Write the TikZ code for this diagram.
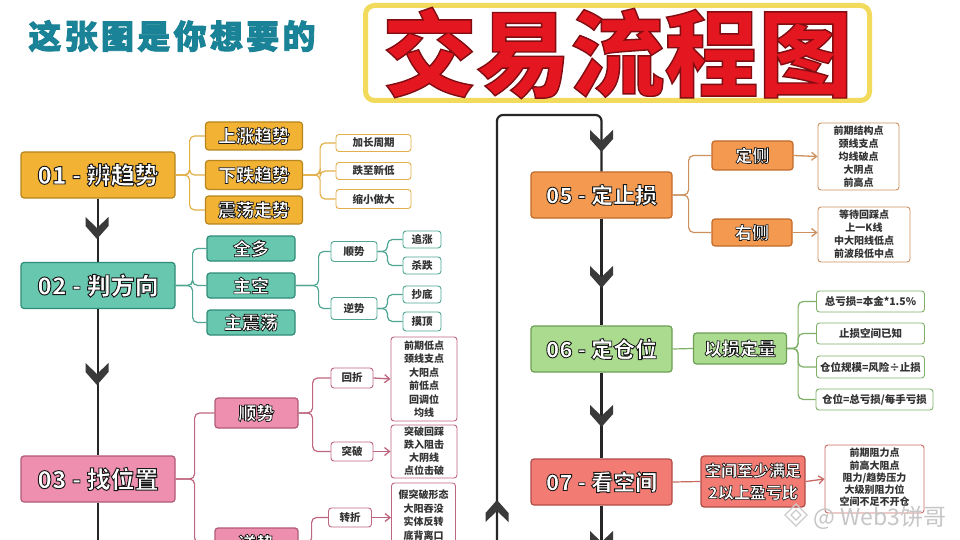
\documentclass[tikz,border=0pt]{standalone}
\usepackage{fontspec}
\setmainfont{Noto Sans CJK SC}
\usetikzlibrary{arrows.meta}
\definecolor{goldF}{HTML}{F2B233}
\definecolor{goldD}{HTML}{B7861F}
\definecolor{goldL}{HTML}{E3B04B}
\definecolor{tealF}{HTML}{67C8AF}
\definecolor{tealD}{HTML}{2F8C78}
\definecolor{tealL}{HTML}{4FA793}
\definecolor{pinkF}{HTML}{EF8FAF}
\definecolor{pinkD}{HTML}{B05A75}
\definecolor{pinkL}{HTML}{BF667F}
\definecolor{orgF}{HTML}{F49A50}
\definecolor{orgD}{HTML}{C06A2C}
\definecolor{orgL}{HTML}{CD915F}
\definecolor{grnF}{HTML}{AADB8F}
\definecolor{grnD}{HTML}{6E9F56}
\definecolor{grnL}{HTML}{7FB068}
\definecolor{redF}{HTML}{F27C74}
\definecolor{redD}{HTML}{B04C47}
\definecolor{redL}{HTML}{C96A65}
\definecolor{subT}{HTML}{1A8397}
\definecolor{titR}{HTML}{E4161F}
\definecolor{titY}{HTML}{F2DA5C}
\definecolor{chev}{HTML}{3A3A3A}
\definecolor{ink}{HTML}{333333}
% outlined text: fill colour #1, stroke colour (rgb) #2, stroke strength #3
\newcommand\olt[4]{{\color{#1}\special{pdf:code #2 RG}\addfontfeature{FakeBold=#3}#4}}
\newcommand\wt[1]{\olt{white}{0.1 0.1 0.1}{4}{#1}}
\tikzset{
  box/.style={rectangle, rounded corners=3pt, line width=1.2pt, inner sep=0pt, align=center},
  mainbox/.style n args={2}{box, draw=#1, fill=#2, minimum height=46,
     font=\fontsize{24}{24}\selectfont\bfseries},
  subbox/.style n args={2}{box, draw=#1, fill=#2,
     font=\fontsize{18}{19}\selectfont\bfseries},
  leaf/.style={box, draw=#1, fill=white, line width=0.9pt, text=ink,
     font=\fontsize{10.5}{13.5}\selectfont\bfseries},
  conn/.style={draw=#1, line width=1.2pt, rounded corners=5pt},
  arr/.style={draw=#1, line width=1.3pt, -{Straight Barb[length=5pt,width=8pt]}},
  flow/.style={draw=black!85, line width=2.2pt},
  chevdown/.pic={\fill[chev] (-11.5,0) -- (0,11) -- (11.5,0) -- (11.5,9) -- (0,22) -- (-11.5,9) -- cycle;},
  chevup/.pic={\fill[chev] (-11.5,0) -- (0,-11) -- (11.5,0) -- (11.5,-9) -- (0,-22) -- (-11.5,-9) -- cycle;}
}
\begin{document}
\begin{tikzpicture}[x=1pt,y=-1pt]
\useasboundingbox (0,0) rectangle (960,540);
\clip (0,0) rectangle (960,540);
\fill[white] (0,0) rectangle (960,540);

% header
\node[font=\fontsize{33}{33}\selectfont\bfseries\addfontfeatures{LetterSpace=10}] (sub) at (172,36) {\olt{subT}{0.1 0.51 0.59}{2.5}{这张图是你想要的}};
\node[draw=titY, fill=white, line width=5pt, rounded corners=9pt, minimum width=504, minimum height=95, inner sep=0pt,
      font=\fontsize{94}{94}\selectfont\bfseries] (title) at (617.5,53) {\olt{titR}{0.5 0.05 0.07}{1.5}{交易流程图}};

% ---------- left column ----------
\node[mainbox={goldD}{goldF}, minimum width=154] (n01) at (98,175) {\wt{01 - 辨趋势}};
\node[mainbox={tealD}{tealF}, minimum width=154] (n02) at (98,285.5) {\wt{02 - 判方向}};
\node[mainbox={pinkD}{pinkF}, minimum width=154] (n03) at (98,479) {\wt{03 - 找位置}};
\coordinate (leftbot) at (98,560);
\draw[flow] (n01.south) -- (n02.north);
\draw[flow] (n02.south) -- (n03.north);
\draw[flow] (n03.south) -- (leftbot);
\pic at (97,217) {chevdown};
\pic at (97,363) {chevdown};

% 01 branch
\node[subbox={goldD}{goldF}, minimum width=97, minimum height=28] (c11) at (254,136) {\wt{上涨趋势}};
\node[subbox={goldD}{goldF}, minimum width=97, minimum height=29] (c12) at (254,175) {\wt{下跌趋势}};
\node[subbox={goldD}{goldF}, minimum width=97, minimum height=28] (c13) at (254,210) {\wt{震荡走势}};
\foreach \c in {c11,c12,c13} \draw[conn=goldL] (n01.east) -- ++(14,0) |- (\c.west);
\node[leaf=goldL, minimum width=75, minimum height=17] (l1) at (373.5,143) {加长周期};
\node[leaf=goldL, minimum width=75, minimum height=17] (l2) at (373.5,171) {跌至新低};
\node[leaf=goldL, minimum width=75, minimum height=19] (l3) at (373.5,199) {缩小做大};
\foreach \c in {l1,l2,l3} \draw[conn=goldL] (c12.east) -- ++(17,0) |- (\c.west);

% 02 branch
\node[subbox={tealD}{tealF}, minimum width=88, minimum height=25] (c21) at (251,248.5) {\wt{全多}};
\node[subbox={tealD}{tealF}, minimum width=88, minimum height=25] (c22) at (251,285.5) {\wt{主空}};
\node[subbox={tealD}{tealF}, minimum width=88, minimum height=25] (c23) at (251,322.5) {\wt{主震荡}};
\foreach \c in {c21,c22,c23} \draw[conn=tealL] (n02.east) -- ++(17,0) |- (\c.west);
\node[leaf=tealL, minimum width=46, minimum height=20] (s1) at (354,251.5) {顺势};
\node[leaf=tealL, minimum width=46, minimum height=22] (s2) at (354,308.5) {逆势};
\foreach \c in {s1,s2} \draw[conn=tealL] (c22.east) -- ++(23,0) |- (\c.west);
\node[leaf=tealL, minimum width=38, minimum height=17] (t1) at (422,239.5) {追涨};
\node[leaf=tealL, minimum width=38, minimum height=17] (t2) at (422,265.5) {杀跌};
\node[leaf=tealL, minimum width=38, minimum height=17] (t3) at (422,294.5) {抄底};
\node[leaf=tealL, minimum width=38, minimum height=19] (t4) at (422,321.5) {摸顶};
\foreach \c in {t1,t2} \draw[conn=tealL] (s1.east) -- ++(10,0) |- (\c.west);
\foreach \c in {t3,t4} \draw[conn=tealL] (s2.east) -- ++(10,0) |- (\c.west);

% 03 branch
\node[subbox={pinkD}{pinkF}, minimum width=83, minimum height=30] (c31) at (256.5,413) {\wt{顺势}};
\node[subbox={pinkD}{pinkF}, minimum width=83, minimum height=30] (c32) at (256.5,543) {\wt{逆势}};
\foreach \c in {c31,c32} \draw[conn=pinkL] (n03.east) -- ++(19,0) |- (\c.west);
\node[leaf=pinkL, minimum width=42, minimum height=20] (p1) at (352,378) {回折};
\node[leaf=pinkL, minimum width=42, minimum height=19] (p2) at (352,451.5) {突破};
\foreach \c in {p1,p2} \draw[conn=pinkL] (c31.east) -- ++(14,0) |- (\c.west);
\node[leaf=pinkL, minimum width=43, minimum height=19] (p3) at (350,517.5) {转折};
\draw[conn=pinkL] (c32.east) -- ++(13,0) |- (p3.west);
\node[leaf=pinkL, minimum width=66, minimum height=84, font=\fontsize{10}{13.5}\selectfont\bfseries] (b1) at (424,379) {前期低点\\颈线支点\\大阳点\\前低点\\回调位\\均线};
\node[leaf=pinkL, minimum width=66, minimum height=53, font=\fontsize{10}{13}\selectfont\bfseries] (b2) at (424,451.5) {突破回踩\\跌入阻击\\大阴线\\点位击破};
\node[leaf=pinkL, minimum width=64, minimum height=78, font=\fontsize{10}{13.5}\selectfont\bfseries] (b3) at (423.5,522) {假突破形态\\大阳吞没\\实体反转\\底背离口\\双底结构};
\draw[arr=pinkL] (p1.east) -- (b1.west);
\draw[arr=pinkL] (p2.east) -- (b2.west);
\draw[arr=pinkL] (p3.east) -- (p3.east -| b3.west);

% ---------- right column ----------
\node[mainbox={orgD}{orgF}, minimum width=141, font=\fontsize{22}{22}\selectfont\bfseries] (n05) at (601.5,195) {\wt{05 - 定止损}};
\node[mainbox={grnD}{grnF}, minimum width=141, font=\fontsize{22}{22}\selectfont\bfseries] (n06) at (601.5,349) {\wt{06 - 定仓位}};
\node[mainbox={redD}{redF}, minimum width=141, font=\fontsize{22}{22}\selectfont\bfseries] (n07) at (601.5,482) {\wt{07 - 看空间}};
\coordinate (loopbot) at (497,560);
\coordinate (looptop) at (601.5,115);
\coordinate (rightbot) at (601.5,560);
\draw[flow, rounded corners=6pt] (loopbot) |- (looptop) -- (n05.north);
\draw[flow] (n05.south) -- (n06.north);
\draw[flow] (n06.south) -- (n07.north);
\draw[flow] (n07.south) -- (rightbot);
\pic at (601.5,130) {chevdown};
\pic at (601.5,266) {chevdown};
\pic at (601.5,405) {chevdown};
\pic at (601.5,531) {chevdown};
\pic at (497,522) {chevup};

% 05 branch
\node[subbox={orgD}{orgF}, minimum width=81, minimum height=29, font=\fontsize{17}{17}\selectfont\bfseries] (r1) at (752.5,155.5) {\wt{定侧}};
\node[subbox={orgD}{orgF}, minimum width=80, minimum height=27, font=\fontsize{17}{17}\selectfont\bfseries] (r2) at (752,232.5) {\wt{右侧}};
\foreach \c in {r1,r2} \draw[conn=orgL] (n05.east) -- ++(16,0) |- (\c.west);
\node[leaf=orgL, minimum width=81, minimum height=67, font=\fontsize{10}{13}\selectfont\bfseries] (q1) at (858.5,156.5) {前期结构点\\颈线支点\\均线破点\\大阴点\\前高点};
\node[leaf=orgL, minimum width=92, minimum height=55, font=\fontsize{10}{13}\selectfont\bfseries] (q2) at (864,234.5) {等待回踩点\\上一K线\\中大阳线低点\\前波段低中点};
\draw[arr=orgL] (r1.east) -- (q1.west);
\draw[arr=orgL] (r2.east) -- (r2.east -| q2.west);

% 06 branch
\node[subbox={grnD}{grnF}, minimum width=93, minimum height=31] (g1) at (740,348.5) {\wt{以损定量}};
\draw[conn=grnL] (n06.east) -- (g1.west);
\node[leaf=grnL, minimum width=108, minimum height=21] (h1) at (870.5,301.5) {总亏损=本金*1.5\%};
\node[leaf=grnL, minimum width=108, minimum height=21] (h2) at (870.5,333.5) {止损空间已知};
\node[leaf=grnL, minimum width=108, minimum height=22] (h3) at (870.5,367) {仓位规模=风险÷止损};
\node[leaf=grnL, minimum width=117, minimum height=21] (h4) at (874.5,399.5) {仓位=总亏损/每手亏损};
\foreach \c in {h1,h2,h3,h4} \draw[conn=grnL] (g1.east) -- ++(11,0) |- (\c.west);

% 07 branch
\node[subbox={redD}{redF}, minimum width=104, minimum height=51, font=\fontsize{16}{22}\selectfont\bfseries] (k1) at (753,481.5) {\wt{空间至少满足}\\\wt{2以上盈亏比}};
\draw[conn=redL] (n07.east) -- (k1.west);
\node[leaf=redL, minimum width=99, minimum height=68, font=\fontsize{10}{12}\selectfont\bfseries] (kb) at (874.5,479) {\raisebox{3pt}{\begin{tabular}{@{}c@{}}前期阻力点\\前高大阻点\\阻力/趋势压力\\大级别阻力位\\空间不足不开仓\end{tabular}}};
\draw[arr=redL] (k1.east) -- (kb.west);

% watermark
\draw[gray!40, line width=1.3pt] (796,504) -- (807,515) -- (796,526) -- (785,515) -- cycle;
\draw[gray!40, line width=1.1pt] (796,510) -- (801,515) -- (796,520) -- (791,515) -- cycle;
\node[text=gray!45, font=\fontsize{23}{23}\selectfont, anchor=west, inner sep=0pt] (wm) at (813,518) {@ Web3饼哥};
\end{tikzpicture}
\end{document}
